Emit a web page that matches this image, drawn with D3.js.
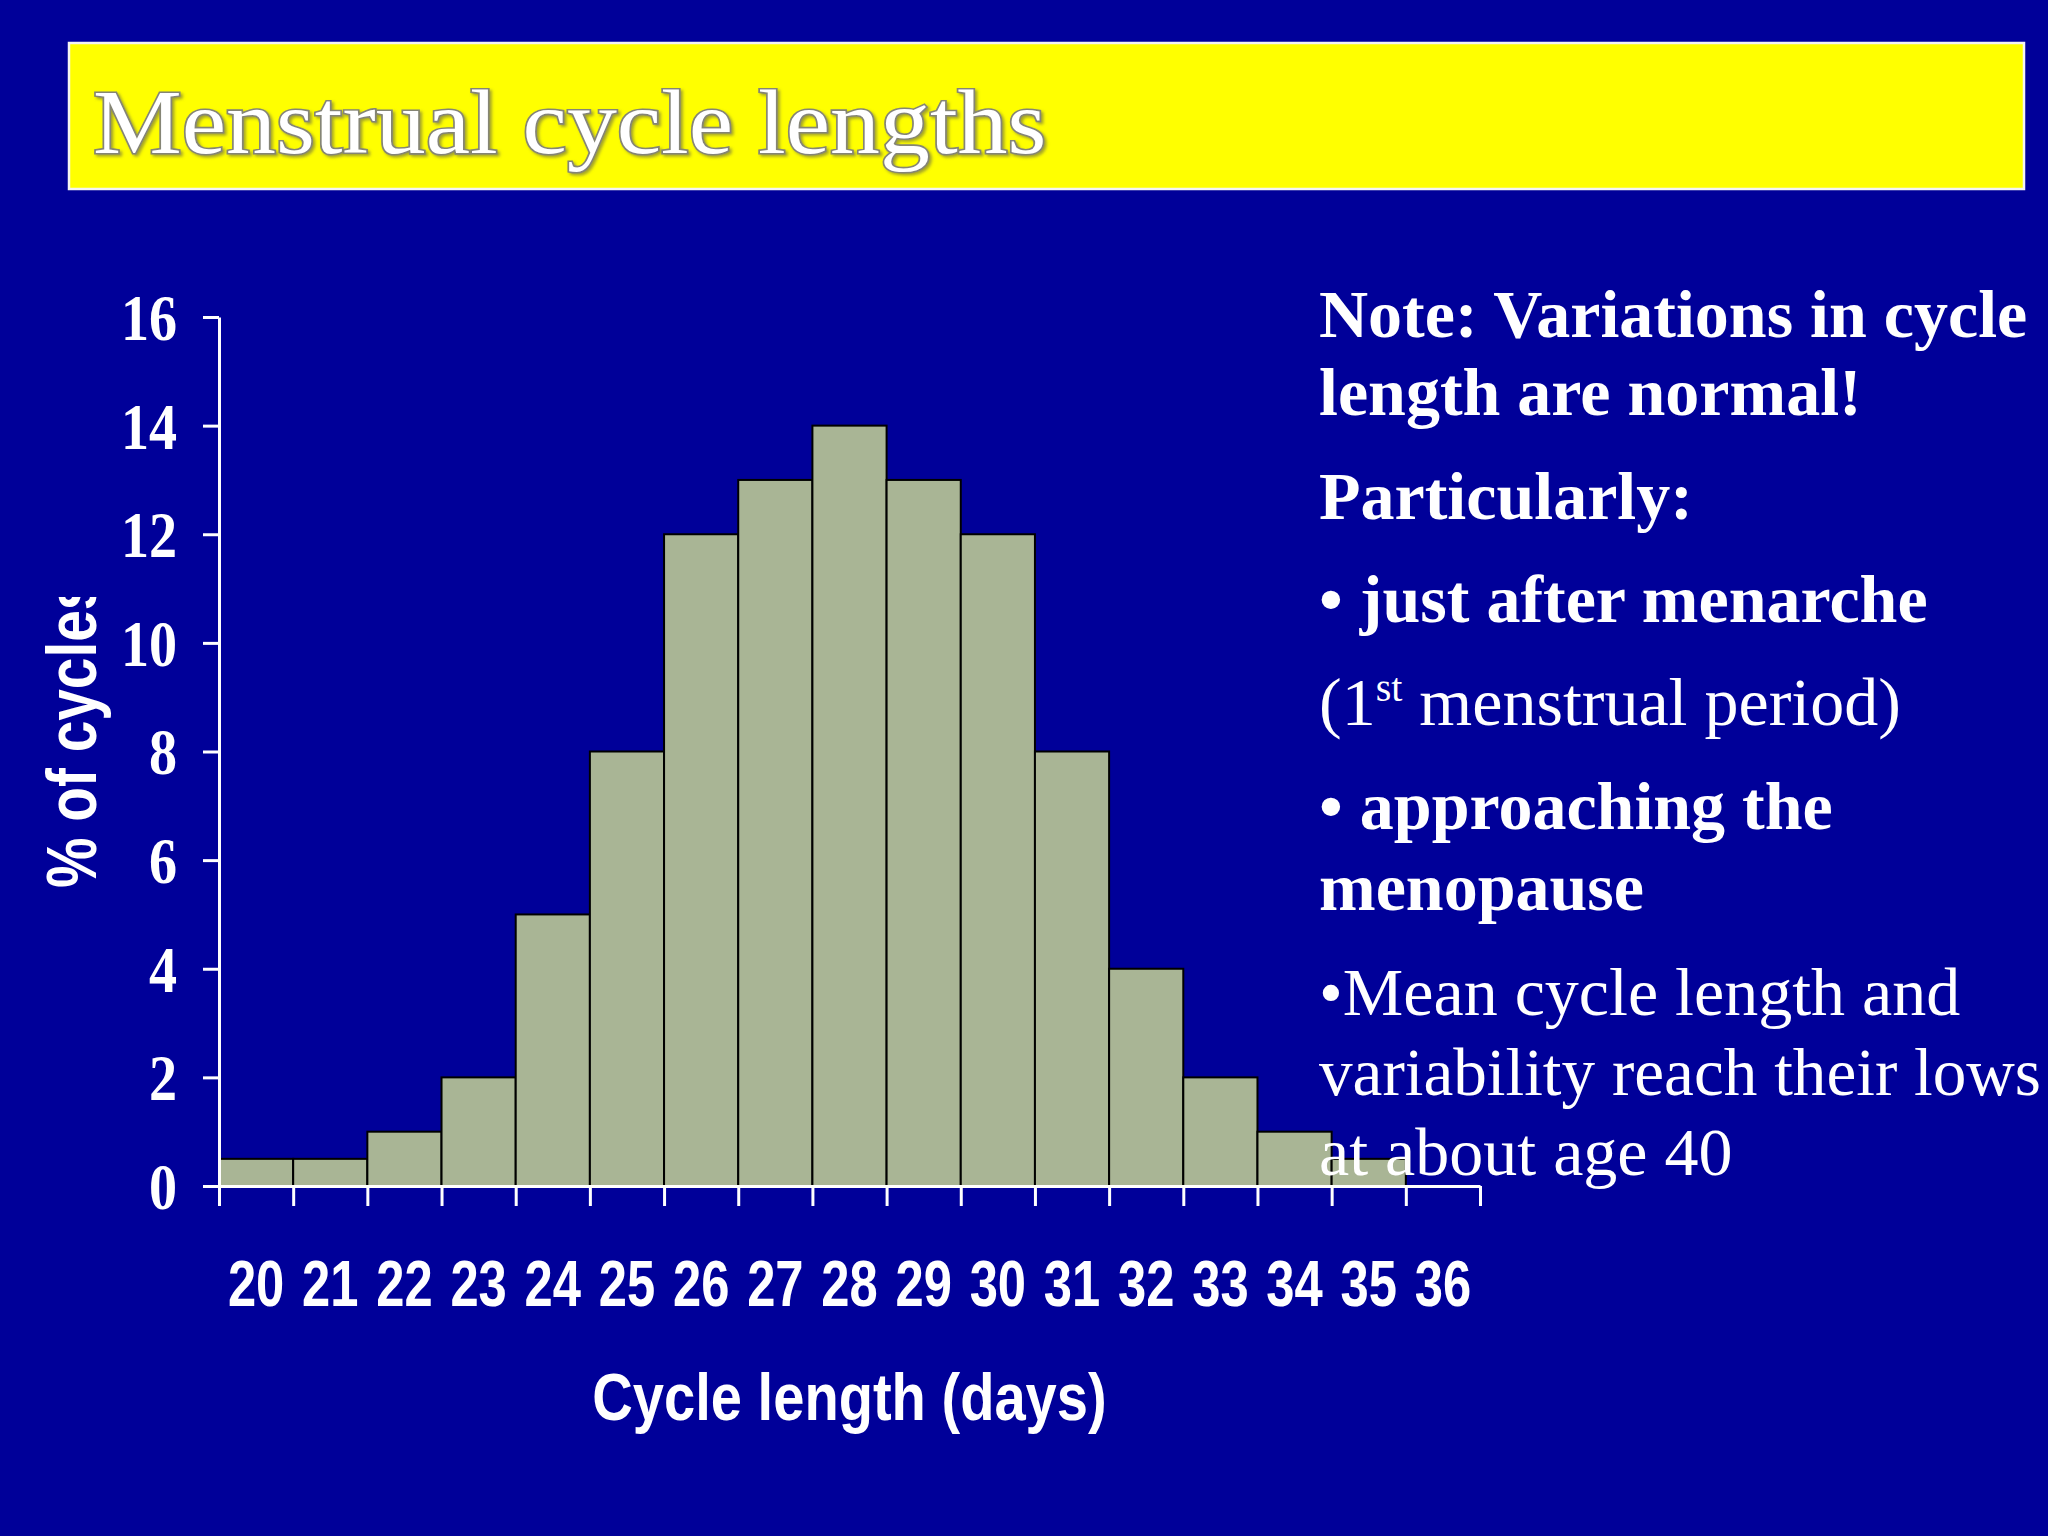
<!DOCTYPE html>
<html lang="en">
  <head>
    <meta charset="UTF-8" />
    <title>Menstrual cycle lengths</title>
    <script src="https://cdn.jsdelivr.net/npm/d3@7/dist/d3.min.js"></script>
    <style>
      body {
        margin: 0;
        background-color: #000099;
      }
      svg {
        display: block;
      }
    </style>
  </head>
  <body>
    <div id="wrapper"></div>
    <script>
      // data
      const cycleDays = [20, 21, 22, 23, 24, 25, 26, 27, 28, 29, 30, 31, 32, 33, 34, 35, 36];
      const cyclePercent = [0.5, 0.5, 1, 2, 5, 8, 12, 13, 14, 13, 12, 8, 4, 2, 1, 0.5, 0];
      const yTickValues = [0, 2, 4, 6, 8, 10, 12, 14, 16];
      const titleText = "Menstrual cycle lengths";
      const xAxisTitle = "Cycle length (days)";
      const yAxisTitle = "% of cycles";
      const noteLines = [
        "Note: Variations in cycle",
        "length are normal!",
        "Particularly:",
        "\u2022 just after menarche",
        "(1st menstrual period)",
        "\u2022 approaching the",
        "menopause",
        "\u2022Mean cycle length and",
        "variability reach their lows",
        "at about age 40",
      ];

      // layout
      let dimensions = {
        width: 2048,
        height: 1536,
        margin: { top: 317, right: 568, bottom: 350, left: 219 },
      };
      dimensions.boundedWidth =
        dimensions.width - dimensions.margin.left - dimensions.margin.right;
      dimensions.boundedHeight =
        dimensions.height - dimensions.margin.top - dimensions.margin.bottom;
      const noteX = 1319;
      const noteBaselines = [337, 415, 519, 622, 725, 829, 910, 1015, 1095, 1175];
      const noteBold = [true, true, true, true, false, true, true, false, false, false];

      const svg = d3
        .select("#wrapper")
        .append("svg")
        .attr("width", dimensions.width)
        .attr("height", dimensions.height);

      svg
        .append("rect")
        .attr("width", dimensions.width)
        .attr("height", dimensions.height)
        .attr("fill", "#000099");

      // title banner
      svg
        .append("rect")
        .attr("x", 69)
        .attr("y", 43)
        .attr("width", 1955)
        .attr("height", 146)
        .attr("fill", "#ffff00")
        .attr("stroke", "#f4f4f4")
        .attr("stroke-width", 2.5);

      const defs = svg.append("defs");
      const shadow = defs.append("filter").attr("id", "titleShadow");
      shadow
        .append("feDropShadow")
        .attr("dx", 2)
        .attr("dy", 2)
        .attr("stdDeviation", 1.5)
        .attr("flood-color", "#7a7a40")
        .attr("flood-opacity", 0.7);

      svg
        .append("text")
        .attr("transform", "translate(93,153) scale(1.085,1)")
        .attr("font-family", "'Liberation Serif', 'Times New Roman', serif")
        .attr("font-size", 92)
        .attr("fill", "#ffffff")
        .attr("stroke", "#858575")
        .attr("stroke-width", 3.2)
        .attr("paint-order", "stroke")
        .attr("filter", "url(#titleShadow)")
        .text(titleText);

      const bounds = svg
        .append("g")
        .attr(
          "transform",
          `translate(${dimensions.margin.left},${dimensions.margin.top})`
        );

      const xScale = d3
        .scaleBand()
        .domain(cycleDays)
        .range([0, dimensions.boundedWidth])
        .padding(0);
      const edgeScale = d3
        .scaleLinear()
        .domain([cycleDays[0], cycleDays[cycleDays.length - 1] + 1])
        .range([0, dimensions.boundedWidth]);
      const yScale = d3
        .scaleLinear()
        .domain([0, 16])
        .range([dimensions.boundedHeight, 0]);

      const bars = cycleDays.map((d, i) => ({ day: d, pct: cyclePercent[i] }));

      bounds
        .append("g")
        .selectAll("rect")
        .data(bars.filter((d) => d.pct > 0))
        .join("rect")
        .attr("x", (d) => xScale(d.day))
        .attr("y", (d) => yScale(d.pct))
        .attr("width", xScale.bandwidth())
        .attr("height", (d) => dimensions.boundedHeight - yScale(d.pct))
        .attr("fill", "#a9b595")
        .attr("stroke", "#000000")
        .attr("stroke-width", 2);

      // y axis
      const yAxis = bounds
        .append("g")
        .call(d3.axisLeft(yScale).tickValues(yTickValues).tickSize(16).tickSizeOuter(0));
      yAxis.selectAll("path, line").attr("stroke", "#ffffff").attr("stroke-width", 3);
      yAxis
        .selectAll("text")
        .attr("fill", "#ffffff")
        .attr("font-family", "'Liberation Serif', 'Times New Roman', serif")
        .attr("font-weight", "bold")
        .attr("font-size", 66)
        .attr("text-anchor", "end")
        .attr("x", -42 / 0.85)
        .attr("dy", "0.34em")
        .attr("transform", "scale(0.85,1)");

      // x axis: ticks at the bin edges, labels at the bin centres
      const xEdgeAxis = bounds
        .append("g")
        .attr("transform", `translate(0,${dimensions.boundedHeight})`)
        .call(
          d3
            .axisBottom(edgeScale)
            .tickValues(d3.range(cycleDays[0], cycleDays[cycleDays.length - 1] + 2))
            .tickSize(20)
            .tickSizeOuter(0)
            .tickFormat("")
        );
      xEdgeAxis.selectAll("path, line").attr("stroke", "#ffffff").attr("stroke-width", 3);

      const xLabelAxis = bounds
        .append("g")
        .attr("transform", `translate(0,${dimensions.boundedHeight})`)
        .call(d3.axisBottom(xScale).tickSize(0));
      xLabelAxis.select(".domain").remove();
      xLabelAxis
        .selectAll("text")
        .attr("fill", "#ffffff")
        .attr("font-family", "'Liberation Sans', Arial, sans-serif")
        .attr("font-weight", "bold")
        .attr("font-size", 65)
        .attr("y", 120)
        .attr("dy", 0)
        .attr("transform", "scale(0.78,1)");

      // axis titles
      svg
        .append("text")
        .attr(
          "transform",
          `translate(${dimensions.margin.left + dimensions.boundedWidth / 2},1420) scale(0.85,1)`
        )
        .attr("text-anchor", "middle")
        .attr("font-family", "'Liberation Sans', Arial, sans-serif")
        .attr("font-weight", "bold")
        .attr("font-size", 66)
        .attr("fill", "#ffffff")
        .text(xAxisTitle);

      defs
        .append("clipPath")
        .attr("id", "yTitleClip")
        .append("rect")
        .attr("x", 0)
        .attr("y", 597)
        .attr("width", 200)
        .attr("height", 600);

      svg
        .append("g")
        .attr("clip-path", "url(#yTitleClip)")
        .append("text")
        .attr("transform", "translate(96,888) rotate(-90) scale(0.8,1)")
        .attr("font-family", "'Liberation Sans', Arial, sans-serif")
        .attr("font-weight", "bold")
        .attr("font-size", 71)
        .attr("fill", "#ffffff")
        .text(yAxisTitle);

      // note text on the right
      const notes = svg
        .append("g")
        .attr("font-family", "'Liberation Serif', 'Times New Roman', serif")
        .attr("font-size", 68)
        .attr("fill", "#ffffff");

      noteLines.forEach((line, i) => {
        const t = notes
          .append("text")
          .attr("x", noteX)
          .attr("y", noteBaselines[i])
          .attr("font-weight", noteBold[i] ? "bold" : "normal");
        const parts = line.match(/^(\(\d)(st)(.*)$/);
        if (parts) {
          t.append("tspan").text(parts[1]);
          t.append("tspan")
            .attr("font-size", 40)
            .attr("dy", -24)
            .text(parts[2]);
          t.append("tspan").attr("dy", 24).text(parts[3]);
        } else {
          t.text(line);
        }
        // shrink the longest line a touch so it stays inside the slide
        const w = t.node().getComputedTextLength();
        const room = dimensions.width - noteX - 6;
        if (w > room) {
          t.attr("font-size", Math.floor((68 * room) / w * 10) / 10);
        }
      });
    </script>
  </body>
</html>
